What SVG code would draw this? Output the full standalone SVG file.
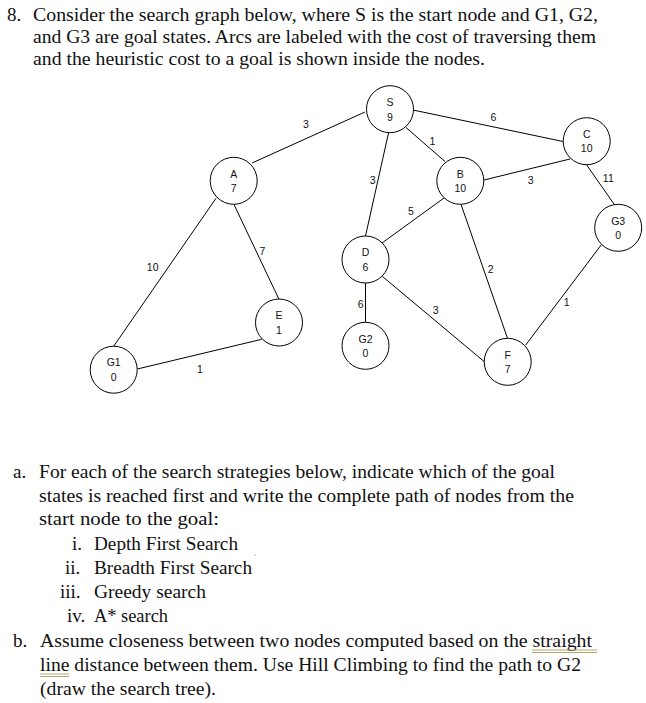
<svg xmlns="http://www.w3.org/2000/svg" width="646" height="703" viewBox="0 0 646 703">
<style>
.bg{fill:#fff}
.q{font-family:"Liberation Serif","DejaVu Serif",serif;font-size:19px;fill:#111}
.node circle{fill:#fff;stroke:#000;stroke-width:1}
.node text,.lbl{font-family:"Liberation Sans","Open Sans",sans-serif;font-size:10.5px;fill:#111;text-anchor:middle}
.edges line{stroke:#000;stroke-width:1}
.ul{stroke:#b09a5c;stroke-width:0.9}
</style>
<rect class="bg" x="0" y="0" width="646" height="703"/>

<g id="question-text">
<text class="q" x="7" y="21">8.</text>
<text class="q" x="33" y="21" textLength="565" lengthAdjust="spacingAndGlyphs">Consider the search graph below, where S is the start node and G1, G2,</text>
<text class="q" x="33" y="43" textLength="563" lengthAdjust="spacingAndGlyphs">and G3 are goal states. Arcs are labeled with the cost of traversing them</text>
<text class="q" x="33" y="65" textLength="452" lengthAdjust="spacingAndGlyphs">and the heuristic cost to a goal is shown inside the nodes.</text>
</g>

<g id="edges" class="edges">
<line x1="252" y1="163" x2="365" y2="112"/>
<line x1="413" y1="110" x2="563" y2="141.5"/>
<line x1="406" y1="127.5" x2="445" y2="161.5"/>
<line x1="388.5" y1="133" x2="365.5" y2="236"/>
<line x1="484" y1="180" x2="570" y2="159"/>
<line x1="586.7" y1="165" x2="615" y2="205.5"/>
<line x1="444" y1="198" x2="382" y2="243"/>
<line x1="461" y1="204.3" x2="507.5" y2="338.3"/>
<line x1="365.5" y1="283" x2="365.5" y2="322.3"/>
<line x1="382.5" y1="276.5" x2="484.3" y2="361.7"/>
<line x1="525.7" y1="345" x2="601.5" y2="244.5"/>
<line x1="216" y1="198.3" x2="113.5" y2="346.5"/>
<line x1="234" y1="204.5" x2="279" y2="299.3"/>
<line x1="137.3" y1="369" x2="261.7" y2="339.3"/>
</g>

<g id="edge-labels">
<text class="lbl" x="306" y="128">3</text>
<text class="lbl" x="493.3" y="121.3">6</text>
<text class="lbl" x="432.3" y="145">1</text>
<text class="lbl" x="372.7" y="184">3</text>
<text class="lbl" x="530.7" y="184">3</text>
<text class="lbl" x="608.3" y="182.3">11</text>
<text class="lbl" x="411" y="215">5</text>
<text class="lbl" x="490.7" y="273">2</text>
<text class="lbl" x="360.7" y="308">6</text>
<text class="lbl" x="435.7" y="314">3</text>
<text class="lbl" x="566.7" y="305.7">1</text>
<text class="lbl" x="152.7" y="271.3">10</text>
<text class="lbl" x="262.3" y="255">7</text>
<text class="lbl" x="200" y="373.3">1</text>
</g>

<g id="node-S" class="node"><circle cx="390" cy="109.2" r="23.5"/><text x="390" y="106">S</text><text x="390" y="120.5">9</text></g>
<g id="node-A" class="node"><circle cx="233.7" cy="180.8" r="23.5"/><text x="233.7" y="177.5">A</text><text x="233.7" y="192">7</text></g>
<g id="node-B" class="node"><circle cx="460.3" cy="180.8" r="23.5"/><text x="460.3" y="177.5">B</text><text x="460.3" y="192">10</text></g>
<g id="node-C" class="node"><circle cx="586.7" cy="141.2" r="23.5"/><text x="586.7" y="137.9">C</text><text x="586.7" y="152.4">10</text></g>
<g id="node-G3" class="node"><circle cx="618.2" cy="227.8" r="23.5"/><text x="618.2" y="224.5">G3</text><text x="618.2" y="239">0</text></g>
<g id="node-D" class="node"><circle cx="365.5" cy="259.5" r="23.5"/><text x="365.5" y="256.2">D</text><text x="365.5" y="270.7">6</text></g>
<g id="node-G2" class="node"><circle cx="365.5" cy="345.8" r="23.5"/><text x="365.5" y="342.5">G2</text><text x="365.5" y="357">0</text></g>
<g id="node-F" class="node"><circle cx="507.7" cy="361.8" r="23.5"/><text x="507.7" y="358.5">F</text><text x="507.7" y="373">7</text></g>
<g id="node-E" class="node"><circle cx="279" cy="322.5" r="23.5"/><text x="279" y="319.2">E</text><text x="279" y="333.7">1</text></g>
<g id="node-G1" class="node"><circle cx="113.7" cy="369.7" r="23.5"/><text x="113.7" y="366.4">G1</text><text x="113.7" y="380.9">0</text></g>

<g id="part-a">
<text class="q" x="13" y="478">a.</text>
<text class="q" x="39" y="478" textLength="516" lengthAdjust="spacingAndGlyphs">For each of the search strategies below, indicate which of the goal</text>
<text class="q" x="39" y="502" textLength="535" lengthAdjust="spacingAndGlyphs">states is reached first and write the complete path of nodes from the</text>
<text class="q" x="39" y="525" textLength="180" lengthAdjust="spacingAndGlyphs">start node to the goal:</text>
<text class="q" x="72" y="550">i.</text>
<text class="q" x="94" y="550" textLength="144" lengthAdjust="spacingAndGlyphs">Depth First Search</text>
<circle cx="255" cy="555" r="0.8" fill="#aaa"/>
<text class="q" x="65" y="573.5">ii.</text>
<text class="q" x="94" y="573.5" textLength="158" lengthAdjust="spacingAndGlyphs">Breadth First Search</text>
<text class="q" x="60" y="598">iii.</text>
<text class="q" x="94" y="598" textLength="112" lengthAdjust="spacingAndGlyphs">Greedy search</text>
<text class="q" x="67" y="622">iv.</text>
<text class="q" x="94" y="622" textLength="74" lengthAdjust="spacingAndGlyphs">A* search</text>
</g>

<g id="part-b">
<text class="q" x="13" y="647">b.</text>
<text class="q" x="40" y="647" textLength="552" lengthAdjust="spacingAndGlyphs">Assume closeness between two nodes computed based on the straight</text>
<line class="ul" x1="532" y1="650" x2="597" y2="650"/>
<line class="ul" x1="532" y1="652.5" x2="597" y2="652.5"/>
<text class="q" x="40" y="671" textLength="541" lengthAdjust="spacingAndGlyphs">line distance between them. Use Hill Climbing to find the path to G2</text>
<line class="ul" x1="40" y1="674" x2="69" y2="674"/>
<line class="ul" x1="40" y1="676.5" x2="69" y2="676.5"/>
<text class="q" x="40" y="694.5" textLength="176" lengthAdjust="spacingAndGlyphs">(draw the search tree).</text>
</g>
</svg>
